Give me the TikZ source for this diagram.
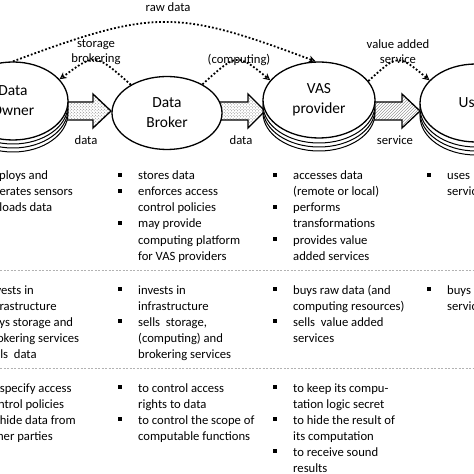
\documentclass[tikz,border=0pt]{standalone}
\usepackage{fontspec}
\setmainfont{Carlito}
\usetikzlibrary{shapes.geometric,patterns,arrows.meta}
\newcommand\blockarrow[5]{%
  \draw[blk,#5] (#1,#4-9) -- (#2,#4-9) -- (#2,#4-17) -- (#3,#4) -- (#2,#4+17) -- (#2,#4+9) -- (#1,#4+9) -- cycle;}
\begin{document}
\begin{tikzpicture}[x=1bp,y=-1bp,
  ell/.style={ellipse, draw, line width=1.3bp, fill=white, inner sep=0pt,
    font=\fontsize{15.5}{20}\selectfont, align=center},
  backell/.style={ell, line width=1bp},
  dotarrow/.style={line width=1.8bp, dash pattern=on 1.8bp off 2bp,
    -{Stealth[open,length=7bp,width=7bp,line width=1bp]}},
  lbl/.style={font=\fontsize{12.7}{15}\selectfont, align=center, inner sep=0pt},
  txt/.style={font=\fontsize{12.7}{16}\selectfont, anchor=base west, inner sep=0pt},
  bul/.style={fill=black, minimum size=4bp, inner sep=0pt},
  blk/.style={draw, line width=1.3bp},
  sep/.style={gray!60, line width=0.8bp, dash pattern=on 2bp off 1.5bp}
]
\useasboundingbox (0,0) rectangle (474,474);
\fill[white] (0,0) rectangle (474,474);
\clip (0,0) rectangle (474,474);

% block arrows (drawn first, ends hidden under ellipses)
\blockarrow{55}{93}{111}{111}{pattern=crosshatch dots, pattern color=gray}
\blockarrow{210}{248}{265}{111}{pattern=crosshatch dots, pattern color=gray}
\blockarrow{365}{402}{420}{111}{pattern=north east lines, pattern color=gray}

% ellipses
\foreach \o/\k in {12/3,8/2,4/1}
  \node[backell, minimum width=110bp, minimum height=78bp] (owner\k) at (13,101+\o) {};
\node[ell, minimum width=110bp, minimum height=78bp] (owner) at (13,101) {Data\\Owner};

\node[ell, minimum width=110bp, minimum height=73bp] (broker) at (167,113) {Data\\Broker};

\foreach \o/\k in {13/3,9/2,5/1}
  \node[backell, minimum width=112bp, minimum height=76bp] (vas\k) at (319,100+\o) {};
\node[ell, minimum width=112bp, minimum height=76bp] (vas) at (319,100) {VAS\\provider};

\foreach \o/\k in {13/3,9/2,5/1}
  \node[backell, minimum width=112bp, minimum height=78bp] (users\k) at (476,103+\o) {};
\node[ell, minimum width=112bp, minimum height=78bp] (users) at (476,103) {Users};

% dotted arrows
\draw[dotarrow] (owner.90) .. controls (154,9) and (176,9) .. (vas.95);
\draw[dotarrow] (broker.142) .. controls (95,53) .. (owner.25);
\draw[dotarrow] (broker.39) .. controls (237,53) .. (vas.158);
\draw[dotarrow] (vas.21) .. controls (398,54) .. (users.154);

% labels
\node[lbl] (lraw) at (168,7) {raw data};
\node[lbl] (lsto) at (96,52) {storage\\brokering};
\node[lbl] (lcomp) at (239,60) {(computing)};
\node[lbl] (lval) at (398,52) {value added\\service};
\node[lbl] (ldata1) at (86,140) {data};
\node[lbl] (ldata2) at (241,140) {data};
\node[lbl] (lserv) at (395,140) {service};

% separators
\coordinate (s1a) at (0,270); \coordinate (s1b) at (474,270);
\coordinate (s2a) at (0,368); \coordinate (s2b) at (474,368);
\draw[sep] (s1a) -- (s1b);
\draw[sep] (s2a) -- (s2b);

% bullets
\foreach \x/\y [count=\i] in {120/175,120/191,120/223,120/289,120/321,120/387,120/419,
  275/175,275/207,275/239,275/289,275/321,275/387,275/419,275/451,
  429/175,429/289}
  \node[bul] (b\i) at (\x,\y) {};

% text lines
\foreach \x/\y/\t [count=\i] in {
  -14/180/{deploys and},-14/196/{operates sensors},-14/212/{uploads data},
  138/180/{stores data},138/196/{enforces access},138/212/{control policies},
  138/228/{may provide},138/244/{computing platform},138/260/{for VAS providers},
  293/180/{accesses data},293/196/{(remote or local)},293/212/{performs},
  293/228/{transformations},293/244/{provides value},293/260/{added services},
  447/180/{uses},447/196/{services},
  -14/294/{invests in},-14/310/{infrastructure},-14/326/{buys storage and},
  -14/342/{brokering services},-14/358/{sells~ data},
  138/294/{invests in},138/310/{infrastructure},138/326/{sells~ storage,},
  138/342/{(computing) and},138/358/{brokering services},
  293/294/{buys raw data (and},293/310/{computing resources)},
  293/326/{sells~ value added},293/342/{services},
  447/294/{buys},447/310/{services},
  -14/392/{to specify access},-14/408/{control policies},
  -14/424/{to hide data from},-14/440/{other parties},
  138/392/{to control access},138/408/{rights to data},
  138/424/{to control the scope of},138/440/{computable functions},
  293/392/{to keep its compu-},293/408/{tation logic secret},
  293/424/{to hide the result of},293/440/{its computation},
  293/456/{to receive sound},293/472/{results}}
  \node[txt] (t\i) at (\x,\y) {\t};
\end{tikzpicture}
\end{document}
